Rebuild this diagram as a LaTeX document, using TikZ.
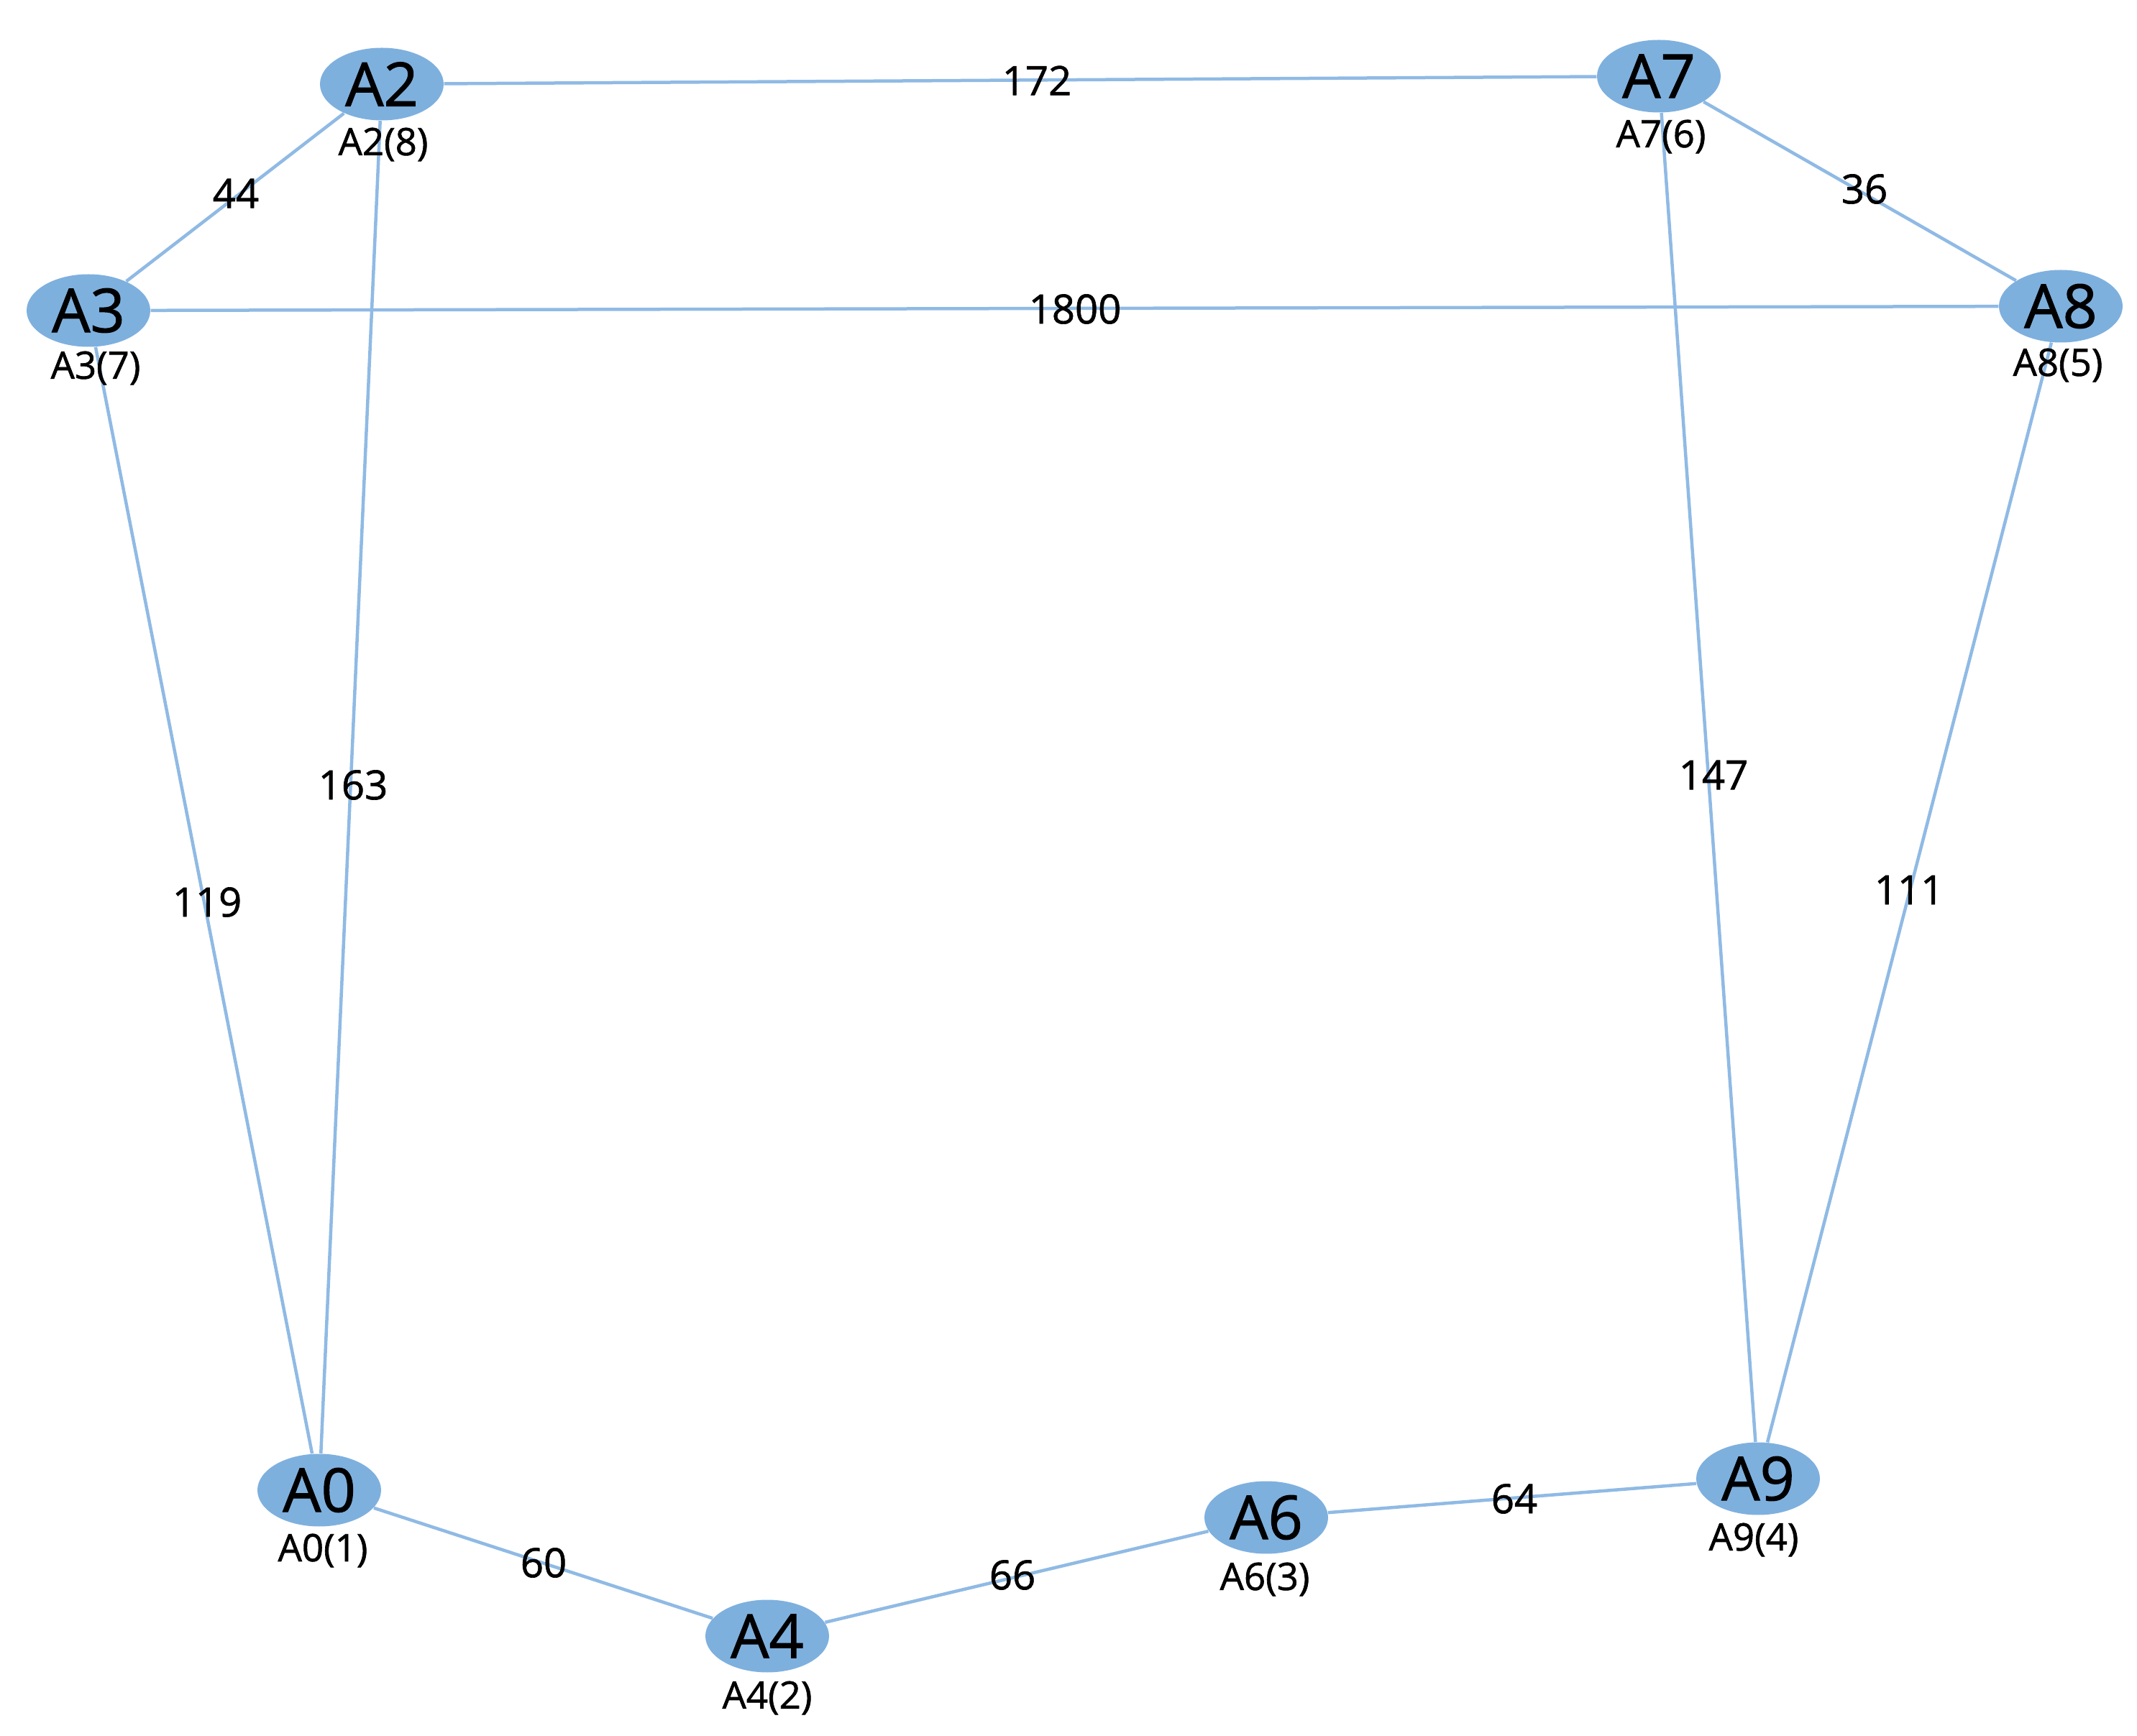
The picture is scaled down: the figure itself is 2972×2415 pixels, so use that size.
\documentclass[tikz,border=0pt]{standalone}
\usepackage{fontspec}
\setmainfont{Open Sans}[FakeBold=1.2,AutoFakeBold=1.2]
\usetikzlibrary{shapes.geometric}
\definecolor{nodeblue}{HTML}{7EB0DE}
\definecolor{edgeblue}{HTML}{8FBAE4}
\tikzset{
  vert/.style={ellipse, fill=nodeblue, draw=none, minimum width=17.2mm, minimum height=10.1mm, inner sep=0pt, font=\fontsize{24}{24}\selectfont},
  sub/.style={font=\fontsize{15}{15}\selectfont\bfseries, inner sep=0pt},
  wt/.style={font=\fontsize{16}{16}\selectfont\bfseries, inner sep=0pt},
  link/.style={draw=edgeblue, line width=0.45mm}
}
\begin{document}
\begin{tikzpicture}[x=0.1mm,y=-0.1mm]
\useasboundingbox (0,0) rectangle (2972,2415);
% nodes
\node[vert] (A2) at (531,117) {A2};
\node[vert] (A3) at (123,432) {A3};
\node[vert] (A7) at (2307,106) {A7};
\node[vert] (A8) at (2866,426) {A8};
\node[vert] (A0) at (444,2073) {A0};
\node[vert] (A4) at (1067,2276) {A4};
\node[vert] (A6) at (1761,2111) {A6};
\node[vert] (A9) at (2445,2057) {A9};
% edges
\draw[link] (A2) -- (A7);
\draw[link] (A2) -- (A3);
\draw[link] (A2) -- (A0);
\draw[link] (A3) -- (A8);
\draw[link] (A3) -- (A0);
\draw[link] (A7) -- (A8);
\draw[link] (A7) -- (A9);
\draw[link] (A8) -- (A9);
\draw[link] (A0) -- (A4);
\draw[link] (A4) -- (A6);
\draw[link] (A6) -- (A9);
% sub labels
\node[sub] (l2) at (533,201) {A2(8)};
\node[sub] (l3) at (133,512) {A3(7)};
\node[sub] (l7) at (2310,190) {A7(6)};
\node[sub] (l8) at (2862,508) {A8(5)};
\node[sub] (l0) at (449,2157) {A0(1)};
\node[sub] (l4) at (1067,2362) {A4(2)};
\node[sub] (l6) at (1759,2197) {A6(3)};
\node[sub] (l9) at (2439,2142) {A9(4)};
% weights
\node[wt] (w27) at (1442,112) {172};
\node[wt] (w23) at (328,269) {44};
\node[wt] (w38) at (1495,430) {1800};
\node[wt] (w78) at (2593,263) {36};
\node[wt] (w20) at (491,1092) {163};
\node[wt] (w30) at (288,1255) {119};
\node[wt] (w79) at (2383,1078) {147};
\node[wt] (w89) at (2655,1238) {111};
\node[wt] (w04) at (756,2174) {60};
\node[wt] (w46) at (1408,2191) {66};
\node[wt] (w69) at (2106,2085) {64};
\end{tikzpicture}
\end{document}
